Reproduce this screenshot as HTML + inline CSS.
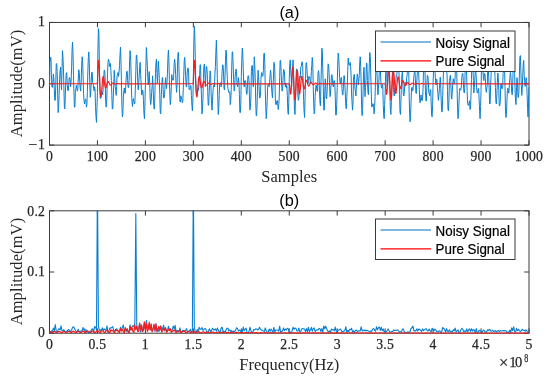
<!DOCTYPE html>
<html><head><meta charset="utf-8"><style>
html,body{margin:0;padding:0;background:#fff;width:550px;height:379px;overflow:hidden}
svg{display:block}
.tk{font-family:"Liberation Serif",serif;font-size:13.7px;fill:#262626;stroke:#262626;stroke-width:0.25px;letter-spacing:0.25px}
.al{font-family:"Liberation Serif",serif;font-size:16.5px;fill:#262626}
.lg{font-family:"Liberation Sans",sans-serif;font-size:14.2px;fill:#000;stroke:#000;stroke-width:0.2px}
.tt{font-family:"Liberation Sans",sans-serif;font-size:16.3px;fill:#000}
</style></head><body>
<svg width="550" height="379" viewBox="0 0 550 379">
<defs>
<clipPath id="ct"><rect x="49.0" y="21.95" width="480.5" height="123.64999999999999"/></clipPath>
<clipPath id="cb"><rect x="49.0" y="210.3" width="480.5" height="123.39999999999998"/></clipPath>
</defs>
<g stroke="#3a3a3a" stroke-width="1" fill="none">
<rect x="49.5" y="22.45" width="479.5" height="122.64999999999999"/>
<rect x="49.5" y="210.8" width="479.5" height="122.39999999999998"/>
<line x1="49.50" y1="145.1" x2="49.50" y2="140.29999999999998" />
<line x1="49.50" y1="22.45" x2="49.50" y2="27.25" />
<line x1="97.45" y1="145.1" x2="97.45" y2="140.29999999999998" />
<line x1="97.45" y1="22.45" x2="97.45" y2="27.25" />
<line x1="145.40" y1="145.1" x2="145.40" y2="140.29999999999998" />
<line x1="145.40" y1="22.45" x2="145.40" y2="27.25" />
<line x1="193.35" y1="145.1" x2="193.35" y2="140.29999999999998" />
<line x1="193.35" y1="22.45" x2="193.35" y2="27.25" />
<line x1="241.30" y1="145.1" x2="241.30" y2="140.29999999999998" />
<line x1="241.30" y1="22.45" x2="241.30" y2="27.25" />
<line x1="289.25" y1="145.1" x2="289.25" y2="140.29999999999998" />
<line x1="289.25" y1="22.45" x2="289.25" y2="27.25" />
<line x1="337.20" y1="145.1" x2="337.20" y2="140.29999999999998" />
<line x1="337.20" y1="22.45" x2="337.20" y2="27.25" />
<line x1="385.15" y1="145.1" x2="385.15" y2="140.29999999999998" />
<line x1="385.15" y1="22.45" x2="385.15" y2="27.25" />
<line x1="433.10" y1="145.1" x2="433.10" y2="140.29999999999998" />
<line x1="433.10" y1="22.45" x2="433.10" y2="27.25" />
<line x1="481.05" y1="145.1" x2="481.05" y2="140.29999999999998" />
<line x1="481.05" y1="22.45" x2="481.05" y2="27.25" />
<line x1="529.00" y1="145.1" x2="529.00" y2="140.29999999999998" />
<line x1="529.00" y1="22.45" x2="529.00" y2="27.25" />
<line x1="49.5" y1="22.45" x2="54.3" y2="22.45" />
<line x1="529.0" y1="22.45" x2="524.2" y2="22.45" />
<line x1="49.5" y1="83.77" x2="54.3" y2="83.77" />
<line x1="529.0" y1="83.77" x2="524.2" y2="83.77" />
<line x1="49.5" y1="145.10" x2="54.3" y2="145.10" />
<line x1="529.0" y1="145.10" x2="524.2" y2="145.10" />
<line x1="49.50" y1="333.2" x2="49.50" y2="328.4" />
<line x1="49.50" y1="210.8" x2="49.50" y2="215.60000000000002" />
<line x1="97.45" y1="333.2" x2="97.45" y2="328.4" />
<line x1="97.45" y1="210.8" x2="97.45" y2="215.60000000000002" />
<line x1="145.40" y1="333.2" x2="145.40" y2="328.4" />
<line x1="145.40" y1="210.8" x2="145.40" y2="215.60000000000002" />
<line x1="193.35" y1="333.2" x2="193.35" y2="328.4" />
<line x1="193.35" y1="210.8" x2="193.35" y2="215.60000000000002" />
<line x1="241.30" y1="333.2" x2="241.30" y2="328.4" />
<line x1="241.30" y1="210.8" x2="241.30" y2="215.60000000000002" />
<line x1="289.25" y1="333.2" x2="289.25" y2="328.4" />
<line x1="289.25" y1="210.8" x2="289.25" y2="215.60000000000002" />
<line x1="337.20" y1="333.2" x2="337.20" y2="328.4" />
<line x1="337.20" y1="210.8" x2="337.20" y2="215.60000000000002" />
<line x1="385.15" y1="333.2" x2="385.15" y2="328.4" />
<line x1="385.15" y1="210.8" x2="385.15" y2="215.60000000000002" />
<line x1="433.10" y1="333.2" x2="433.10" y2="328.4" />
<line x1="433.10" y1="210.8" x2="433.10" y2="215.60000000000002" />
<line x1="481.05" y1="333.2" x2="481.05" y2="328.4" />
<line x1="481.05" y1="210.8" x2="481.05" y2="215.60000000000002" />
<line x1="529.00" y1="333.2" x2="529.00" y2="328.4" />
<line x1="529.00" y1="210.8" x2="529.00" y2="215.60000000000002" />
<line x1="49.5" y1="210.80" x2="54.3" y2="210.80" />
<line x1="529.0" y1="210.80" x2="524.2" y2="210.80" />
<line x1="49.5" y1="272.00" x2="54.3" y2="272.00" />
<line x1="529.0" y1="272.00" x2="524.2" y2="272.00" />
<line x1="49.5" y1="333.20" x2="54.3" y2="333.20" />
<line x1="529.0" y1="333.20" x2="524.2" y2="333.20" />
</g>
<g clip-path="url(#ct)" fill="none" stroke-linejoin="round">
<polyline points="49.50,86.39 49.98,62.92 50.46,57.41 50.94,57.41 51.42,74.34 51.90,86.91 52.38,87.45 52.86,83.04 53.34,73.96 53.82,77.87 54.30,89.76 54.77,100.33 55.25,100.33 55.73,86.96 56.21,64.48 56.69,63.54 57.17,71.33 57.65,94.04 58.13,112.60 58.61,107.54 59.09,95.59 59.57,79.33 60.05,70.91 60.53,67.22 61.01,79.76 61.49,89.91 61.97,70.73 62.45,50.66 62.93,56.81 63.41,67.22 63.88,87.11 64.36,107.22 64.84,108.92 65.32,95.20 65.80,80.83 66.28,72.74 66.76,72.74 67.24,84.33 67.72,90.23 68.20,90.83 68.68,85.74 69.16,77.64 69.64,77.64 70.12,79.24 70.60,86.84 71.08,81.20 71.56,70.01 72.04,50.49 72.52,42.07 73.00,53.57 73.47,75.31 73.95,92.43 74.43,107.08 74.91,107.08 75.39,90.17 75.87,89.25 76.35,85.34 76.83,88.36 77.31,91.13 77.79,89.46 78.27,78.99 78.75,69.67 79.23,72.37 79.71,81.49 80.19,87.89 80.67,91.13 81.15,82.39 81.63,67.05 82.11,56.79 82.59,59.93 83.06,74.21 83.54,93.43 84.02,100.42 84.50,104.01 84.98,101.03 85.46,98.88 85.94,100.72 86.42,107.08 86.90,104.44 87.38,91.55 87.86,70.53 88.34,57.69 88.82,51.89 89.30,63.32 89.78,82.76 90.26,97.27 90.74,92.90 91.22,81.11 91.70,72.45 92.18,72.12 92.66,82.46 93.13,83.13 93.61,88.68 94.09,90.72 94.57,86.79 95.05,90.00 95.53,106.73 96.01,116.83 96.49,122.41 96.97,107.29 97.45,92.28 97.93,49.09 98.41,28.58 98.89,33.03 99.37,62.90 99.85,91.20 100.33,98.49 100.81,98.49 101.29,91.87 101.77,91.87 102.25,92.70 102.72,94.82 103.20,87.40 103.68,79.42 104.16,70.28 104.64,70.29 105.12,78.14 105.60,100.10 106.08,107.08 106.56,104.76 107.04,89.65 107.52,73.38 108.00,62.23 108.48,59.24 108.96,60.82 109.44,66.44 109.92,65.09 110.40,63.48 110.88,70.67 111.36,80.52 111.84,95.48 112.31,108.92 112.79,108.92 113.27,96.83 113.75,84.06 114.23,70.28 114.71,78.47 115.19,86.53 115.67,90.22 116.15,95.43 116.63,86.63 117.11,75.47 117.59,73.76 118.07,72.45 118.55,76.47 119.03,72.43 119.51,65.64 119.99,55.49 120.47,46.98 120.95,60.69 121.42,80.44 121.90,105.25 122.38,116.89 122.86,113.19 123.34,97.61 123.82,92.04 124.30,87.98 124.78,93.19 125.26,93.19 125.74,86.19 126.22,77.48 126.70,71.51 127.18,71.21 127.66,80.76 128.14,87.45 128.62,87.67 129.10,80.84 129.58,61.26 130.06,50.66 130.54,54.45 131.01,69.92 131.49,91.14 131.97,101.77 132.45,106.47 132.93,100.58 133.41,98.62 133.89,101.33 134.37,104.11 134.85,103.27 135.33,89.34 135.81,71.68 136.29,55.62 136.77,54.95 137.25,65.76 137.73,81.04 138.21,89.82 138.69,84.06 139.17,76.11 139.65,67.59 140.13,62.31 140.61,74.46 141.08,82.27 141.56,94.81 142.04,94.81 142.52,89.99 143.00,91.43 143.48,100.68 143.96,113.56 144.44,118.73 144.92,105.11 145.40,84.69 145.88,66.26 146.36,47.59 146.84,55.79 147.32,65.45 147.80,77.49 148.28,85.00 148.76,77.12 149.24,71.51 149.72,83.92 150.19,99.08 150.67,104.63 151.15,101.63 151.63,92.54 152.11,86.53 152.59,75.80 153.07,85.90 153.55,101.47 154.03,108.92 154.51,108.92 154.99,90.38 155.47,73.64 155.95,63.08 156.43,59.24 156.91,72.39 157.39,83.77 157.87,73.62 158.35,61.08 158.83,68.79 159.31,78.54 159.78,94.43 160.26,112.55 160.74,113.82 161.22,98.22 161.70,88.01 162.18,77.64 162.66,77.64 163.14,89.36 163.62,97.88 164.10,97.88 164.58,94.76 165.06,85.53 165.54,77.64 166.02,83.66 166.50,88.68 166.98,82.43 167.46,73.26 167.94,57.19 168.42,50.05 168.90,60.24 169.38,79.64 169.85,95.41 170.33,104.63 170.81,98.76 171.29,86.84 171.77,74.57 172.25,77.64 172.73,80.21 173.21,80.21 173.69,75.47 174.17,63.82 174.65,59.24 175.13,64.15 175.61,74.44 176.09,84.65 176.57,92.36 177.05,84.38 177.53,65.23 178.01,52.50 178.49,52.53 178.97,68.26 179.44,88.73 179.92,101.57 180.40,102.17 180.88,95.81 181.36,97.93 181.84,99.40 182.32,102.79 182.80,101.30 183.28,89.14 183.76,75.44 184.24,60.56 184.72,57.41 185.20,65.92 185.68,76.61 186.16,86.84 186.64,86.84 187.12,74.17 187.60,68.39 188.08,67.83 188.56,72.13 189.03,89.07 189.51,89.91 189.99,89.08 190.47,85.67 190.95,85.65 191.43,95.52 191.91,105.39 192.39,110.76 192.87,101.09 193.35,76.35 193.83,41.31 194.31,26.13 194.79,34.12 195.27,57.72 195.75,80.84 196.23,91.89 196.71,96.04 197.19,90.77 197.67,88.54 198.15,90.76 198.62,89.41 199.10,82.83 199.58,77.39 200.06,64.76 200.54,64.76 201.02,84.91 201.50,98.11 201.98,113.82 202.46,109.84 202.94,98.42 203.42,78.48 203.90,66.11 204.38,64.15 204.86,73.40 205.34,86.84 205.82,75.36 206.30,66.60 206.78,66.60 207.26,73.92 207.74,91.68 208.21,105.24 208.69,105.24 209.17,92.97 209.65,79.44 210.13,70.90 210.61,74.85 211.09,92.33 211.57,103.56 212.05,110.14 212.53,100.39 213.01,91.10 213.49,85.43 213.97,84.48 214.45,86.84 214.93,73.58 215.41,66.43 215.89,51.81 216.37,40.23 216.85,55.79 217.32,78.47 217.80,100.07 218.28,114.44 218.76,107.91 219.24,94.70 219.72,82.93 220.20,82.93 220.68,82.80 221.16,86.84 221.64,83.45 222.12,71.53 222.60,64.76 223.08,65.24 223.56,73.81 224.04,88.47 224.52,89.91 225.00,75.64 225.48,61.23 225.96,50.05 226.44,53.11 226.91,69.94 227.39,79.62 227.87,88.68 228.35,89.91 228.83,92.47 229.31,91.82 229.79,91.97 230.27,104.63 230.75,100.00 231.23,89.80 231.71,68.04 232.19,51.89 232.67,51.89 233.15,64.91 233.63,79.77 234.11,91.13 234.59,90.38 235.07,77.75 235.55,71.43 236.03,69.06 236.50,71.18 236.98,83.92 237.46,86.84 237.94,83.68 238.42,77.64 238.90,81.57 239.38,94.29 239.86,112.38 240.34,112.60 240.82,102.91 241.30,76.32 241.78,60.54 242.26,48.21 242.74,53.05 243.22,68.47 243.70,82.83 244.18,86.84 244.66,80.71 245.14,80.71 245.62,80.71 246.09,88.00 246.57,94.20 247.05,93.90 247.53,83.39 248.01,75.80 248.49,75.80 248.97,79.78 249.45,96.91 249.93,110.14 250.41,106.13 250.89,98.13 251.37,71.58 251.85,66.00 252.33,65.38 252.81,76.53 253.29,86.84 253.77,78.37 254.25,56.79 254.73,64.35 255.21,77.56 255.69,100.04 256.16,115.66 256.64,115.66 257.12,102.98 257.60,83.12 258.08,70.28 258.56,76.36 259.04,86.67 259.52,97.88 260.00,97.88 260.48,95.38 260.96,79.58 261.44,72.74 261.92,72.74 262.40,76.17 262.88,76.16 263.36,70.74 263.84,54.12 264.32,53.11 264.80,63.48 265.27,89.23 265.75,106.54 266.23,118.73 266.71,111.14 267.19,100.37 267.67,86.67 268.15,84.33 268.63,85.75 269.11,86.84 269.59,82.96 270.07,75.77 270.55,70.28 271.03,74.84 271.51,86.12 271.99,93.61 272.47,97.88 272.95,87.02 273.43,78.07 273.91,62.31 274.39,63.48 274.87,71.79 275.34,99.93 275.82,104.63 276.30,104.63 276.78,101.29 277.26,100.41 277.74,103.83 278.22,109.53 278.70,105.88 279.18,98.11 279.66,77.66 280.14,60.47 280.62,60.47 281.10,71.24 281.58,83.17 282.06,91.13 282.54,90.26 283.02,80.19 283.50,69.67 283.98,69.67 284.46,71.50 284.93,84.04 285.41,86.84 285.89,82.90 286.37,88.10 286.85,85.61 287.33,95.59 287.81,109.80 288.29,114.44 288.77,102.45 289.25,79.69 289.73,65.22 290.21,59.86 290.69,70.36 291.17,77.41 291.65,86.84 292.13,76.00 292.61,66.81 293.09,59.86 293.57,74.31 294.04,95.70 294.52,111.19 295.00,114.44 295.48,100.77 295.96,79.41 296.44,69.06 296.92,69.06 297.40,81.59 297.88,95.19 298.36,100.33 298.84,98.85 299.32,82.34 299.80,76.11 300.28,77.84 300.76,67.09 301.24,66.54 301.72,62.57 302.20,61.70 302.68,65.51 303.16,83.16 303.63,100.45 304.11,111.83 304.59,117.50 305.07,97.47 305.55,78.89 306.03,62.92 306.51,62.71 306.99,69.54 307.47,78.21 307.95,83.77 308.43,80.33 308.91,76.27 309.39,78.17 309.87,77.60 310.35,83.77 310.83,82.15 311.31,71.76 311.79,65.19 312.27,57.41 312.75,62.84 313.23,86.31 313.70,103.78 314.18,113.82 314.66,111.33 315.14,96.44 315.62,89.18 316.10,84.94 316.58,88.06 317.06,91.29 317.54,91.24 318.02,73.59 318.50,70.59 318.98,73.53 319.46,91.02 319.94,102.30 320.42,105.85 320.90,85.99 321.38,67.59 321.86,48.21 322.34,51.57 322.81,70.99 323.29,87.08 323.77,110.14 324.25,110.14 324.73,94.68 325.21,78.87 325.69,84.49 326.17,97.88 326.65,98.94 327.13,91.47 327.61,78.10 328.09,63.85 328.57,64.76 329.05,72.49 329.53,83.30 330.01,96.65 330.49,93.06 330.97,85.88 331.45,75.27 331.93,74.58 332.40,78.67 332.88,85.03 333.36,86.84 333.84,80.71 334.32,80.71 334.80,83.73 335.28,96.80 335.76,115.05 336.24,115.05 336.72,104.11 337.20,87.76 337.68,65.19 338.16,53.11 338.64,56.83 339.12,65.81 339.60,77.40 340.08,83.77 340.56,83.77 341.04,77.64 341.52,77.64 342.00,88.69 342.47,94.81 342.95,94.81 343.43,86.21 343.91,75.80 344.39,75.80 344.87,83.83 345.35,95.01 345.83,105.85 346.31,108.89 346.79,97.55 347.27,86.84 347.75,70.19 348.23,58.02 348.71,64.70 349.19,65.01 349.67,65.32 350.15,62.31 350.63,66.31 351.11,75.39 351.58,93.96 352.06,102.86 352.54,110.14 353.02,103.09 353.50,78.13 353.98,74.58 354.46,74.58 354.94,88.32 355.42,91.37 355.90,96.04 356.38,86.96 356.86,78.60 357.34,73.96 357.82,77.34 358.30,85.00 358.78,81.34 359.26,75.62 359.74,62.77 360.22,56.79 360.70,66.45 361.18,82.84 361.65,108.52 362.13,115.66 362.61,109.67 363.09,90.75 363.57,73.00 364.05,67.22 364.53,83.38 365.01,96.65 365.49,87.74 365.97,79.88 366.45,62.92 366.93,63.74 367.41,80.47 367.89,90.98 368.37,94.81 368.85,80.46 369.33,63.70 369.81,52.50 370.29,56.41 370.76,73.86 371.24,92.00 371.72,107.10 372.20,106.50 372.68,103.79 373.16,103.79 373.64,106.87 374.12,113.82 374.60,107.36 375.08,96.64 375.56,77.13 376.04,67.48 376.52,63.62 377.00,73.09 377.48,87.22 377.96,94.81 378.44,88.60 378.92,81.04 379.40,67.62 379.88,67.62 380.36,69.99 380.83,81.35 381.31,86.84 381.79,88.18 382.27,84.33 382.75,84.33 383.23,104.49 383.71,115.00 384.19,118.73 384.67,104.78 385.15,92.31 385.63,73.32 386.11,68.06 386.59,68.06 387.07,86.62 387.55,86.84 388.03,76.78 388.51,70.41 388.99,65.96 389.47,74.98 389.94,96.20 390.42,110.43 390.90,114.44 391.38,101.27 391.86,83.91 392.34,72.06 392.82,70.23 393.30,78.76 393.78,92.70 394.26,96.04 394.74,87.91 395.22,89.91 395.70,83.10 396.18,75.77 396.66,76.35 397.14,70.93 397.62,61.93 398.10,59.37 398.58,61.90 399.06,73.95 399.54,94.68 400.01,112.36 400.49,114.44 400.97,100.17 401.45,84.34 401.93,74.66 402.41,71.75 402.89,83.53 403.37,94.28 403.85,96.04 404.33,92.93 404.81,83.52 405.29,82.18 405.77,84.97 406.25,83.94 406.73,77.69 407.21,74.22 407.69,57.44 408.17,57.44 408.65,64.04 409.12,92.73 409.60,112.95 410.08,121.80 410.56,116.24 411.04,102.58 411.52,88.92 412.00,87.30 412.48,90.74 412.96,90.52 413.44,84.22 413.92,75.93 414.40,71.51 414.88,69.76 415.36,78.51 415.84,92.26 416.32,93.59 416.80,80.82 417.28,73.92 417.76,56.36 418.24,59.50 418.71,73.75 419.19,87.07 419.67,100.10 420.15,102.79 420.63,98.32 421.11,94.84 421.59,100.32 422.07,100.33 422.55,100.33 423.03,88.82 423.51,69.53 423.99,60.23 424.47,60.23 424.95,68.81 425.43,90.79 425.91,100.95 426.39,100.95 426.87,85.54 427.35,75.29 427.83,75.84 428.31,81.89 428.78,92.00 429.26,93.99 429.74,95.67 430.22,89.60 430.70,89.60 431.18,103.00 431.66,115.56 432.14,116.89 432.62,105.28 433.10,82.45 433.58,68.81 434.06,60.56 434.54,60.03 435.02,71.47 435.50,80.29 435.98,84.85 436.46,79.27 436.94,79.27 437.42,87.92 437.89,93.67 438.37,100.33 438.85,96.26 439.33,89.73 439.81,82.66 440.29,77.16 440.77,88.64 441.25,102.08 441.73,111.98 442.21,111.72 442.69,95.74 443.17,81.66 443.65,65.34 444.13,66.85 444.61,71.84 445.09,66.48 445.57,68.06 446.05,64.99 446.53,71.79 447.01,73.72 447.49,90.39 447.96,109.34 448.44,110.76 448.92,101.07 449.40,80.59 449.88,78.18 450.36,75.26 450.84,81.57 451.32,96.86 451.80,99.11 452.28,91.90 452.76,83.60 453.24,78.75 453.72,81.14 454.20,84.35 454.68,83.67 455.16,76.09 455.64,61.95 456.12,57.51 456.60,64.36 457.07,88.13 457.55,107.69 458.03,118.73 458.51,114.50 458.99,102.03 459.47,91.42 459.95,88.41 460.43,90.17 460.91,89.40 461.39,85.68 461.87,76.42 462.35,73.48 462.83,73.43 463.31,80.64 463.79,90.80 464.27,92.97 464.75,88.16 465.23,67.16 465.71,57.00 466.19,59.81 466.67,75.39 467.14,90.56 467.62,103.46 468.10,105.24 468.58,105.24 469.06,102.99 469.54,100.72 470.02,109.53 470.50,108.90 470.98,95.26 471.46,79.44 471.94,58.61 472.42,58.61 472.90,66.27 473.38,80.51 473.86,92.97 474.34,87.42 474.82,78.98 475.30,70.32 475.78,70.32 476.25,78.02 476.73,89.27 477.21,92.95 477.69,92.95 478.17,88.41 478.65,88.41 479.13,99.51 479.61,111.19 480.09,118.73 480.57,106.59 481.05,90.50 481.53,65.89 482.01,60.12 482.49,60.27 482.97,70.34 483.45,79.69 483.93,80.66 484.41,73.56 484.89,73.56 485.37,78.41 485.85,89.01 486.32,92.36 486.80,87.85 487.28,85.47 487.76,67.31 488.24,67.40 488.72,77.83 489.20,89.87 489.68,104.01 490.16,103.04 490.64,84.76 491.12,74.93 491.60,57.81 492.08,59.86 492.56,63.95 493.04,59.88 493.52,57.81 494.00,57.81 494.48,61.43 494.96,76.54 495.44,87.48 495.91,102.06 496.39,104.01 496.87,94.92 497.35,82.44 497.83,73.09 498.31,77.28 498.79,90.46 499.27,105.85 499.75,105.85 500.23,102.00 500.71,86.20 501.19,83.66 501.67,88.49 502.15,88.49 502.63,88.49 503.11,73.63 503.59,61.66 504.07,58.74 504.55,70.01 505.02,86.54 505.50,111.64 505.98,117.50 506.46,113.62 506.94,100.16 507.42,90.52 507.90,88.12 508.38,92.01 508.86,93.14 509.34,84.38 509.82,78.67 510.30,72.46 510.78,74.79 511.26,82.08 511.74,92.76 512.22,94.81 512.70,85.31 513.18,66.99 513.66,58.44 514.14,57.92 514.62,73.65 515.09,89.32 515.57,101.67 516.05,104.63 516.53,87.32 517.01,77.64 517.49,83.95 517.97,97.27 518.45,97.27 518.93,91.30 519.41,74.09 519.89,57.24 520.37,55.57 520.85,70.23 521.33,85.45 521.81,95.43 522.29,88.48 522.77,75.17 523.25,63.66 523.73,60.47 524.20,75.80 524.68,81.71 525.16,86.45 525.64,83.14 526.12,77.64 526.60,80.33 527.08,94.04 527.56,107.64 528.04,116.89 528.52,103.26 529.00,87.19" stroke="#0a7fd2" stroke-width="1.0"/>
<polyline points="49.50,83.77 97.45,83.77 97.57,79.12 97.69,74.83 97.81,71.02 97.93,67.73 98.05,65.03 98.17,62.94 98.29,61.48 98.41,60.66 98.53,60.46 98.65,60.85 98.77,61.78 98.89,63.20 99.01,65.05 99.13,67.26 99.25,69.76 99.37,72.46 99.49,75.28 99.61,78.16 99.73,81.01 99.85,83.77 99.97,86.38 100.09,88.77 100.21,90.91 100.33,92.75 100.45,94.26 100.57,95.42 100.69,96.24 100.81,96.70 100.93,96.81 101.05,96.59 101.17,96.07 101.29,95.28 101.41,94.24 101.53,93.01 101.65,91.61 101.77,90.10 101.89,88.52 102.01,86.91 102.13,85.32 102.25,83.77 102.36,82.32 102.48,80.98 102.60,79.79 102.72,78.76 102.84,77.91 102.96,77.26 103.08,76.81 103.20,76.55 103.32,76.49 103.44,76.61 103.56,76.90 103.68,77.34 103.80,77.92 103.92,78.61 104.04,79.39 104.16,80.24 104.28,81.12 104.40,82.02 104.52,82.91 104.64,83.77 104.76,84.59 104.88,85.34 105.00,86.00 105.12,86.58 105.24,87.05 105.36,87.42 105.48,87.67 105.60,87.81 105.72,87.85 105.84,87.78 105.96,87.62 106.08,87.37 106.20,87.05 106.32,86.66 106.44,86.23 106.56,85.75 106.68,85.26 106.80,84.76 106.92,84.26 107.04,83.77 107.16,83.32 107.28,82.90 107.40,82.53 107.52,82.21 107.64,81.94 107.76,81.74 107.88,81.60 108.00,81.52 108.12,81.50 108.24,81.53 108.36,81.63 108.48,81.76 108.60,81.95 108.72,82.16 108.84,82.40 108.96,82.67 109.08,82.95 109.20,83.23 109.32,83.51 109.44,83.77 109.56,84.03 109.68,84.26 109.80,84.47 109.92,84.65 110.04,84.80 110.16,84.91 110.28,84.99 110.40,85.04 110.52,85.05 110.64,85.03 110.76,84.98 110.88,84.90 111.00,84.80 111.12,84.68 111.24,84.54 111.36,84.39 111.48,84.24 111.60,84.08 111.72,83.93 111.84,83.77 111.95,83.63 112.07,83.50 112.19,83.39 112.31,83.28 112.43,83.20 112.55,83.14 112.67,83.09 112.79,83.07 112.91,83.06 113.03,83.07 113.15,83.10 113.27,83.15 113.39,83.20 113.51,83.27 113.63,83.35 113.75,83.43 113.87,83.52 113.99,83.60 114.11,83.69 114.23,83.77 114.35,83.85 114.47,83.93 114.59,83.99 114.71,84.05 114.83,84.10 114.95,84.13 115.07,84.16 115.19,84.17 115.31,84.17 115.43,84.17 115.55,84.15 115.67,84.13 115.79,84.09 115.91,84.06 116.03,84.01 116.15,83.97 116.27,83.92 116.39,83.87 116.51,83.82 116.63,83.77 116.75,83.73 116.87,83.69 116.99,83.65 117.11,83.62 117.23,83.60 117.35,83.58 117.47,83.56 117.59,83.55 117.71,83.55 117.83,83.56 117.95,83.56 118.07,83.58 118.19,83.60 118.31,83.62 118.43,83.64 118.55,83.67 118.67,83.69 118.79,83.72 118.91,83.75 119.03,83.77 119.15,83.80 119.27,83.82 119.39,83.84 119.51,83.86 119.63,83.88 119.75,83.89 119.87,83.89 119.99,83.90 120.11,83.90 120.23,83.90 120.35,83.89 120.47,83.88 120.59,83.87 120.71,83.86 120.83,83.85 120.95,83.84 121.07,83.82 121.19,83.80 121.31,83.79 121.42,83.77 121.54,83.76 121.66,83.75 121.78,83.74 121.90,83.73 122.02,83.72 122.14,83.71 122.26,83.71 122.38,83.71 122.50,83.71 122.62,83.71 122.74,83.71 122.86,83.71 122.98,83.72 123.10,83.73 123.22,83.73 123.34,83.74 123.46,83.75 123.58,83.76 123.70,83.77 123.94,83.78 124.06,83.79 124.18,83.80 124.30,83.80 124.42,83.81 124.54,83.81 124.66,83.81 124.78,83.81 124.90,83.81 125.02,83.81 125.14,83.81 125.26,83.81 125.38,83.81 125.50,83.80 125.62,83.80 125.74,83.79 125.86,83.79 125.98,83.78 126.46,83.77 126.58,83.76 126.70,83.76 126.82,83.76 126.94,83.76 127.06,83.75 127.18,83.75 127.30,83.75 127.42,83.75 127.54,83.75 127.66,83.76 127.78,83.76 127.90,83.76 128.02,83.76 128.14,83.76 128.26,83.77 129.22,83.78 129.34,83.79 129.46,83.79 129.58,83.79 129.70,83.79 129.82,83.79 129.94,83.79 130.06,83.79 130.18,83.78 193.35,83.77 193.47,79.12 193.59,74.83 193.71,71.02 193.83,67.73 193.95,65.03 194.07,62.94 194.19,61.48 194.31,60.66 194.43,60.46 194.55,60.85 194.67,61.78 194.79,63.20 194.91,65.05 195.03,67.26 195.15,69.76 195.27,72.46 195.39,75.28 195.51,78.16 195.63,81.01 195.75,83.77 195.87,86.38 195.99,88.77 196.11,90.91 196.23,92.75 196.35,94.26 196.47,95.42 196.59,96.24 196.71,96.70 196.83,96.81 196.95,96.59 197.07,96.07 197.19,95.28 197.31,94.24 197.43,93.01 197.55,91.61 197.67,90.10 197.79,88.52 197.91,86.91 198.03,85.32 198.15,83.77 198.26,82.32 198.38,80.98 198.50,79.79 198.62,78.76 198.74,77.91 198.86,77.26 198.98,76.81 199.10,76.55 199.22,76.49 199.34,76.61 199.46,76.90 199.58,77.34 199.70,77.92 199.82,78.61 199.94,79.39 200.06,80.24 200.18,81.12 200.30,82.02 200.42,82.91 200.54,83.77 200.66,84.59 200.78,85.34 200.90,86.00 201.02,86.58 201.14,87.05 201.26,87.42 201.38,87.67 201.50,87.81 201.62,87.85 201.74,87.78 201.86,87.62 201.98,87.37 202.10,87.05 202.22,86.66 202.34,86.23 202.46,85.75 202.58,85.26 202.70,84.76 202.82,84.26 202.94,83.77 203.06,83.32 203.18,82.90 203.30,82.53 203.42,82.21 203.54,81.94 203.66,81.74 203.78,81.60 203.90,81.52 204.02,81.50 204.14,81.53 204.26,81.63 204.38,81.76 204.50,81.95 204.62,82.16 204.74,82.40 204.86,82.67 204.98,82.95 205.10,83.23 205.22,83.51 205.34,83.77 205.46,84.03 205.58,84.26 205.70,84.47 205.82,84.65 205.94,84.80 206.06,84.91 206.18,84.99 206.30,85.04 206.42,85.05 206.54,85.03 206.66,84.98 206.78,84.90 206.90,84.80 207.02,84.68 207.14,84.54 207.26,84.39 207.38,84.24 207.50,84.08 207.62,83.93 207.74,83.77 207.85,83.63 207.97,83.50 208.09,83.39 208.21,83.28 208.33,83.20 208.45,83.14 208.57,83.09 208.69,83.07 208.81,83.06 208.93,83.07 209.05,83.10 209.17,83.15 209.29,83.20 209.41,83.27 209.53,83.35 209.65,83.43 209.77,83.52 209.89,83.60 210.01,83.69 210.13,83.77 210.25,83.85 210.37,83.93 210.49,83.99 210.61,84.05 210.73,84.10 210.85,84.13 210.97,84.16 211.09,84.17 211.21,84.17 211.33,84.17 211.45,84.15 211.57,84.13 211.69,84.09 211.81,84.06 211.93,84.01 212.05,83.97 212.17,83.92 212.29,83.87 212.41,83.82 212.53,83.77 212.65,83.73 212.77,83.69 212.89,83.65 213.01,83.62 213.13,83.60 213.25,83.58 213.37,83.56 213.49,83.55 213.61,83.55 213.73,83.56 213.85,83.56 213.97,83.58 214.09,83.60 214.21,83.62 214.33,83.64 214.45,83.67 214.57,83.69 214.69,83.72 214.81,83.75 214.93,83.77 215.05,83.80 215.17,83.82 215.29,83.84 215.41,83.86 215.53,83.88 215.65,83.89 215.77,83.89 215.89,83.90 216.01,83.90 216.13,83.90 216.25,83.89 216.37,83.88 216.49,83.87 216.61,83.86 216.73,83.85 216.85,83.84 216.97,83.82 217.09,83.80 217.21,83.79 217.32,83.77 217.44,83.76 217.56,83.75 217.68,83.74 217.80,83.73 217.92,83.72 218.04,83.71 218.16,83.71 218.28,83.71 218.40,83.71 218.52,83.71 218.64,83.71 218.76,83.71 218.88,83.72 219.00,83.73 219.12,83.73 219.24,83.74 219.36,83.75 219.48,83.76 219.60,83.77 219.84,83.78 219.96,83.79 220.08,83.80 220.20,83.80 220.32,83.81 220.44,83.81 220.56,83.81 220.68,83.81 220.80,83.81 220.92,83.81 221.04,83.81 221.16,83.81 221.28,83.81 221.40,83.80 221.52,83.80 221.64,83.79 221.76,83.79 221.88,83.78 222.36,83.77 222.48,83.76 222.60,83.76 222.72,83.76 222.84,83.76 222.96,83.75 223.08,83.75 223.20,83.75 223.32,83.75 223.44,83.75 223.56,83.76 223.68,83.76 223.80,83.76 223.92,83.76 224.04,83.76 224.16,83.77 225.12,83.78 225.24,83.79 225.36,83.79 225.48,83.79 225.60,83.79 225.72,83.79 225.84,83.79 225.96,83.79 226.08,83.78 289.25,83.77 289.37,83.98 289.49,84.56 289.61,85.46 289.73,86.60 289.85,87.89 289.97,89.25 290.09,90.58 290.21,91.80 290.33,92.82 290.45,93.57 290.57,94.01 290.69,94.07 290.81,93.75 290.93,93.03 291.05,91.91 291.17,90.43 291.29,88.62 291.41,86.54 291.53,84.25 291.65,81.83 291.77,79.36 291.89,76.93 292.01,74.61 292.13,72.48 292.25,70.62 292.37,69.09 292.49,67.95 292.61,67.24 292.73,66.98 292.85,67.20 292.97,67.87 293.09,69.00 293.21,70.55 293.33,72.47 293.45,74.71 293.57,77.20 293.69,79.88 293.81,82.65 293.93,85.45 294.04,88.19 294.16,90.80 294.28,93.20 294.40,95.32 294.52,97.11 294.64,98.52 294.76,99.51 294.88,100.07 295.00,100.18 295.12,99.85 295.24,99.08 295.36,97.92 295.48,96.39 295.60,94.55 295.72,92.45 295.84,90.16 295.96,87.74 296.08,85.26 296.20,82.79 296.32,80.40 296.44,78.15 296.56,76.10 296.68,74.31 296.80,72.80 296.92,71.63 297.04,70.81 297.16,70.36 297.28,70.27 297.40,70.56 297.52,71.18 297.64,72.13 297.76,73.36 297.88,74.84 298.00,76.52 298.12,78.34 298.24,80.26 298.36,82.22 298.48,84.16 298.60,86.04 298.72,87.80 298.84,89.40 298.96,90.80 299.08,91.97 299.20,92.89 299.32,93.53 299.44,93.90 299.56,93.98 299.68,93.79 299.80,93.34 299.92,92.65 300.04,91.74 300.16,90.65 300.28,89.41 300.40,88.07 300.52,86.65 300.64,85.21 300.76,83.77 300.88,82.39 301.00,81.09 301.12,79.91 301.24,78.87 301.36,78.00 301.48,77.31 301.60,76.82 301.72,76.53 301.84,76.44 301.96,76.56 302.08,76.86 302.20,77.33 302.32,77.96 302.44,78.72 302.56,79.59 302.68,80.54 302.80,81.54 302.92,82.56 303.04,83.58 303.16,84.56 303.28,85.48 303.40,86.33 303.52,87.07 303.63,87.70 303.75,88.20 303.87,88.56 303.99,88.78 304.11,88.86 304.23,88.80 304.35,88.61 304.47,88.30 304.59,87.88 304.71,87.37 304.83,86.78 304.95,86.13 305.07,85.45 305.19,84.75 305.31,84.05 305.43,83.37 305.55,82.73 305.67,82.14 305.79,81.62 305.91,81.18 306.03,80.83 306.15,80.57 306.27,80.40 306.39,80.33 306.51,80.36 306.63,80.47 306.75,80.67 306.87,80.94 306.99,81.28 307.11,81.67 307.23,82.10 307.35,82.56 307.47,83.03 307.59,83.50 307.71,83.96 307.83,84.39 307.95,84.79 308.07,85.15 308.19,85.45 308.31,85.70 308.43,85.88 308.55,86.01 308.67,86.06 308.79,86.06 308.91,85.99 309.03,85.87 309.15,85.69 309.27,85.48 309.39,85.22 309.51,84.94 309.63,84.64 309.75,84.33 309.87,84.02 309.99,83.71 310.11,83.42 310.23,83.16 310.35,82.92 310.47,82.71 310.59,82.54 310.71,82.41 310.83,82.32 310.95,82.28 311.07,82.27 311.19,82.31 311.31,82.39 311.43,82.49 311.55,82.63 311.67,82.79 311.79,82.97 311.91,83.17 312.03,83.37 312.15,83.57 312.27,83.78 312.39,83.97 312.51,84.14 312.63,84.30 312.75,84.44 312.87,84.56 312.99,84.65 313.11,84.71 313.23,84.74 313.34,84.75 313.46,84.73 313.58,84.69 313.70,84.62 313.82,84.53 313.94,84.43 314.06,84.32 314.18,84.19 314.30,84.06 314.42,83.93 314.54,83.80 314.66,83.68 314.78,83.56 314.90,83.45 315.02,83.36 315.14,83.28 315.26,83.22 315.38,83.18 315.50,83.16 315.62,83.15 315.74,83.16 315.86,83.18 315.98,83.22 316.10,83.28 316.22,83.34 316.34,83.41 316.46,83.49 316.58,83.57 316.70,83.66 316.82,83.74 316.94,83.82 317.06,83.90 317.18,83.97 317.30,84.03 317.42,84.08 317.54,84.12 317.66,84.15 317.78,84.17 317.90,84.18 318.02,84.17 318.14,84.16 318.26,84.13 318.38,84.10 318.50,84.06 318.62,84.02 318.74,83.97 318.86,83.91 318.98,83.86 319.10,83.81 319.22,83.75 319.34,83.71 319.46,83.66 319.58,83.62 319.70,83.59 319.82,83.56 319.94,83.54 320.06,83.53 320.18,83.52 320.30,83.52 320.42,83.53 320.54,83.55 320.66,83.56 320.78,83.59 320.90,83.62 321.02,83.65 321.14,83.68 321.26,83.71 321.38,83.75 321.50,83.78 321.62,83.81 321.74,83.84 321.86,83.87 321.98,83.89 322.10,83.91 322.22,83.92 322.34,83.93 322.46,83.93 322.58,83.93 322.70,83.93 322.81,83.92 322.93,83.91 323.05,83.90 323.17,83.88 323.29,83.86 323.41,83.84 323.53,83.82 323.65,83.80 323.77,83.77 323.89,83.76 324.01,83.74 324.13,83.72 324.25,83.71 324.37,83.69 324.49,83.68 324.61,83.68 324.73,83.68 324.85,83.67 324.97,83.68 325.09,83.68 325.21,83.69 325.33,83.70 325.45,83.71 325.57,83.72 325.69,83.73 325.81,83.75 325.93,83.76 326.05,83.77 326.17,83.79 326.29,83.80 326.41,83.81 326.53,83.82 326.65,83.82 326.77,83.83 326.89,83.83 327.01,83.84 327.13,83.84 327.25,83.84 327.37,83.83 327.49,83.83 327.61,83.82 327.73,83.82 327.85,83.81 327.97,83.80 328.09,83.79 328.21,83.79 328.33,83.78 328.45,83.77 328.57,83.76 328.69,83.76 328.81,83.75 328.93,83.75 329.05,83.74 329.17,83.74 329.29,83.74 329.41,83.74 329.53,83.74 329.65,83.74 329.77,83.74 329.89,83.74 330.01,83.75 330.13,83.75 330.25,83.76 330.37,83.76 330.49,83.77 330.85,83.78 330.97,83.79 331.09,83.79 331.21,83.79 331.33,83.80 331.45,83.80 331.57,83.80 331.69,83.80 331.81,83.80 331.93,83.80 332.05,83.80 332.17,83.79 332.29,83.79 332.40,83.79 332.52,83.79 332.64,83.78 333.36,83.77 333.48,83.76 333.60,83.76 333.72,83.76 333.84,83.76 333.96,83.76 334.08,83.76 334.20,83.76 334.32,83.76 334.44,83.76 334.56,83.76 334.68,83.77 385.15,83.77 385.27,83.97 385.39,84.54 385.51,85.41 385.63,86.53 385.75,87.80 385.87,89.14 385.99,90.47 386.11,91.71 386.23,92.77 386.35,93.59 386.47,94.12 386.59,94.31 386.71,94.13 386.83,93.57 386.95,92.62 387.07,91.32 387.19,89.68 387.31,87.76 387.43,85.61 387.55,83.30 387.67,80.90 387.79,78.48 387.91,76.12 388.03,73.90 388.15,71.89 388.27,70.14 388.39,68.73 388.51,67.70 388.63,67.08 388.75,66.89 388.87,67.15 388.99,67.84 389.11,68.96 389.23,70.47 389.35,72.33 389.47,74.49 389.59,76.89 389.71,79.47 389.83,82.15 389.94,84.86 390.06,87.52 390.18,90.08 390.30,92.45 390.42,94.58 390.54,96.41 390.66,97.90 390.78,99.01 390.90,99.72 391.02,100.01 391.14,99.89 391.26,99.36 391.38,98.44 391.50,97.17 391.62,95.58 391.74,93.72 391.86,91.65 391.98,89.41 392.10,87.08 392.22,84.72 392.34,82.38 392.46,80.13 392.58,78.02 392.70,76.10 392.82,74.42 392.94,73.02 393.06,71.93 393.18,71.16 393.30,70.72 393.42,70.63 393.54,70.87 393.66,71.43 393.78,72.28 393.90,73.40 394.02,74.75 394.14,76.29 394.26,77.97 394.38,79.75 394.50,81.58 394.62,83.41 394.74,85.20 394.86,86.89 394.98,88.46 395.10,89.86 395.22,91.06 395.34,92.05 395.46,92.79 395.58,93.29 395.70,93.53 395.82,93.51 395.94,93.26 396.06,92.77 396.18,92.07 396.30,91.19 396.42,90.16 396.54,88.99 396.66,87.74 396.78,86.43 396.90,85.09 397.02,83.78 397.14,82.50 397.26,81.30 397.38,80.21 397.50,79.25 397.62,78.43 397.74,77.77 397.86,77.29 397.98,76.99 398.10,76.87 398.22,76.93 398.34,77.16 398.46,77.55 398.58,78.07 398.70,78.72 398.82,79.48 398.94,80.31 399.06,81.20 399.18,82.12 399.30,83.04 399.42,83.95 399.54,84.83 399.65,85.64 399.77,86.37 399.89,87.01 400.01,87.55 400.13,87.96 400.25,88.26 400.37,88.44 400.49,88.49 400.61,88.42 400.73,88.23 400.85,87.94 400.97,87.56 401.09,87.10 401.21,86.58 401.33,86.00 401.45,85.39 401.57,84.77 401.69,84.14 401.81,83.53 401.93,82.96 402.05,82.42 402.17,81.94 402.29,81.53 402.41,81.19 402.53,80.93 402.65,80.75 402.77,80.65 402.89,80.64 403.01,80.71 403.13,80.84 403.25,81.05 403.37,81.32 403.49,81.64 403.61,81.99 403.73,82.38 403.85,82.79 403.97,83.20 404.09,83.61 404.21,84.01 404.33,84.39 404.45,84.73 404.57,85.04 404.69,85.30 404.81,85.51 404.93,85.67 405.05,85.77 405.17,85.82 405.29,85.82 405.41,85.77 405.53,85.66 405.65,85.52 405.77,85.34 405.89,85.12 406.01,84.89 406.13,84.63 406.25,84.36 406.37,84.09 406.49,83.83 406.61,83.57 406.73,83.33 406.85,83.11 406.97,82.92 407.09,82.76 407.21,82.63 407.33,82.54 407.45,82.48 407.57,82.45 407.69,82.46 407.81,82.50 407.93,82.57 408.05,82.67 408.17,82.80 408.29,82.94 408.41,83.09 408.53,83.26 408.65,83.43 408.77,83.61 408.89,83.77 409.01,83.94 409.12,84.09 409.24,84.22 409.36,84.34 409.48,84.44 409.60,84.52 409.72,84.58 409.84,84.61 409.96,84.62 410.08,84.61 410.20,84.58 410.32,84.53 410.44,84.46 410.56,84.38 410.68,84.29 410.80,84.19 410.92,84.08 411.04,83.97 411.16,83.86 411.28,83.75 411.40,83.65 411.52,83.56 411.64,83.47 411.76,83.40 411.88,83.34 412.00,83.30 412.12,83.26 412.24,83.24 412.36,83.24 412.48,83.25 412.60,83.27 412.72,83.31 412.84,83.35 412.96,83.40 413.08,83.46 413.20,83.53 413.32,83.60 413.44,83.67 413.56,83.73 413.68,83.80 413.80,83.86 413.92,83.92 414.04,83.97 414.16,84.02 414.28,84.05 414.40,84.08 414.52,84.10 414.64,84.11 414.76,84.11 414.88,84.10 415.00,84.09 415.12,84.06 415.24,84.03 415.36,84.00 415.48,83.96 415.60,83.92 415.72,83.88 415.84,83.83 415.96,83.79 416.08,83.75 416.20,83.71 416.32,83.68 416.44,83.65 416.56,83.62 416.68,83.60 416.80,83.58 416.92,83.57 417.04,83.57 417.16,83.57 417.28,83.57 417.40,83.58 417.52,83.60 417.64,83.62 417.76,83.64 417.88,83.66 418.00,83.69 418.12,83.72 418.24,83.74 418.36,83.77 418.48,83.80 418.60,83.82 418.71,83.84 418.83,83.86 418.95,83.87 419.07,83.89 419.19,83.90 419.31,83.90 419.43,83.90 419.55,83.90 419.67,83.90 419.79,83.89 419.91,83.88 420.03,83.87 420.15,83.86 420.27,83.84 420.39,83.82 420.51,83.81 420.63,83.79 420.75,83.77 420.87,83.76 420.99,83.75 421.11,83.73 421.23,83.72 421.35,83.71 421.47,83.70 421.59,83.70 421.71,83.70 421.83,83.70 421.95,83.70 422.07,83.70 422.19,83.70 422.31,83.71 422.43,83.72 422.55,83.73 422.67,83.74 422.79,83.75 422.91,83.76 423.03,83.77 423.15,83.78 423.27,83.79 423.39,83.80 423.51,83.80 423.63,83.81 423.75,83.82 423.87,83.82 423.99,83.82 424.11,83.82 424.23,83.82 424.35,83.82 424.47,83.82 424.59,83.82 424.71,83.81 424.83,83.81 424.95,83.80 425.07,83.80 425.19,83.79 425.31,83.78 425.67,83.77 425.79,83.76 425.91,83.76 426.03,83.75 426.15,83.75 426.27,83.75 426.39,83.75 426.51,83.75 426.63,83.75 426.75,83.75 426.87,83.75 426.99,83.75 427.11,83.75 427.23,83.75 427.35,83.76 427.47,83.76 427.59,83.77 428.19,83.78 428.31,83.79 428.42,83.79 428.54,83.79 428.66,83.79 428.78,83.79 428.90,83.79 429.02,83.79 429.14,83.79 429.26,83.79 429.38,83.79 429.50,83.79 429.62,83.79 429.74,83.78 430.94,83.77 431.06,83.76 431.18,83.76 431.30,83.76 431.42,83.76 431.54,83.76 431.66,83.76 431.78,83.77 529.00,83.78" stroke="#f41e1e" stroke-width="1.2"/>
</g>
<g clip-path="url(#cb)" fill="none" stroke-linejoin="round">
<polyline points="49.50,331.35 50.46,332.22 51.42,330.91 52.38,331.72 53.34,328.12 54.30,330.62 55.25,324.47 56.21,331.00 57.17,332.11 58.13,329.59 59.09,328.77 60.05,330.01 61.01,325.85 61.97,330.81 62.93,330.66 63.88,329.65 64.84,331.36 65.80,331.96 66.76,331.30 67.72,330.21 68.68,329.54 69.64,330.61 70.60,332.15 71.56,330.26 72.52,327.40 73.47,326.84 74.43,328.31 75.39,330.35 76.35,332.02 77.31,331.25 78.27,329.28 79.23,331.60 80.19,331.53 81.15,330.94 82.11,330.87 83.06,327.45 84.02,330.42 84.98,328.85 85.94,332.99 86.90,330.01 87.86,332.13 88.82,333.15 89.78,331.55 90.74,331.04 91.70,329.28 92.66,328.86 93.61,332.40 94.57,326.57 95.53,327.17 96.49,329.82 97.45,180.20 98.41,325.84 99.37,330.40 100.33,329.62 101.29,331.28 102.25,327.79 103.20,330.69 104.16,328.86 105.12,329.96 106.08,329.96 107.04,325.94 108.00,332.97 108.96,330.89 109.92,327.84 110.88,328.18 111.84,327.41 112.79,326.64 113.75,330.97 114.71,330.52 115.67,330.44 116.63,328.75 117.59,330.67 118.55,331.45 119.51,331.04 120.47,327.35 121.42,331.20 122.38,327.48 123.34,324.99 124.30,330.96 125.26,329.48 126.22,331.52 127.18,329.95 128.14,331.74 129.10,332.39 130.06,324.82 131.01,330.12 131.97,327.01 132.93,325.70 133.89,326.67 134.85,323.33 135.81,213.49 136.77,325.14 137.73,330.39 138.69,328.71 139.65,322.98 140.60,331.86 141.56,325.72 142.52,331.81 143.48,327.10 144.44,322.39 145.40,330.21 146.36,320.21 147.32,327.52 148.28,328.30 149.24,324.03 150.19,329.97 151.15,327.35 152.11,331.26 153.07,328.35 154.03,325.96 154.99,331.37 155.95,323.44 156.91,330.49 157.87,328.69 158.83,331.59 159.78,329.23 160.74,325.82 161.70,331.39 162.66,327.99 163.62,325.05 164.58,330.85 165.54,328.31 166.50,330.49 167.46,331.10 168.42,326.18 169.38,329.60 170.33,329.05 171.29,330.29 172.25,329.79 173.21,326.03 174.17,329.00 175.13,325.30 176.09,331.54 177.05,330.61 178.01,330.52 178.97,332.12 179.92,327.78 180.88,331.15 181.84,332.12 182.80,330.17 183.76,330.84 184.72,331.15 185.68,330.10 186.64,328.64 187.60,332.69 188.56,330.96 189.51,331.53 190.47,329.33 191.43,332.05 192.39,331.06 193.35,180.20 194.31,327.07 195.27,331.73 196.23,332.93 197.19,329.33 198.15,332.11 199.10,327.29 200.06,329.22 201.02,329.09 201.98,327.56 202.94,330.31 203.90,329.31 204.86,328.42 205.82,328.90 206.78,332.90 207.73,332.76 208.69,330.16 209.65,328.81 210.61,332.15 211.57,330.37 212.53,328.15 213.49,329.61 214.45,329.94 215.41,328.93 216.37,331.15 217.32,328.07 218.28,330.18 219.24,331.47 220.20,332.40 221.16,328.18 222.12,327.09 223.08,331.83 224.04,331.01 225.00,332.36 225.96,330.33 226.92,328.35 227.87,328.17 228.83,330.98 229.79,329.87 230.75,331.71 231.71,330.53 232.67,332.69 233.63,331.01 234.59,331.81 235.55,330.43 236.50,327.71 237.46,328.34 238.42,330.99 239.38,330.04 240.34,330.54 241.30,332.44 242.26,332.33 243.22,327.15 244.18,330.74 245.14,329.21 246.09,328.17 247.05,332.52 248.01,332.91 248.97,331.59 249.93,327.20 250.89,330.41 251.85,332.29 252.81,332.40 253.77,329.55 254.73,329.97 255.69,328.77 256.64,328.93 257.60,330.03 258.56,329.56 259.52,327.34 260.48,329.09 261.44,330.20 262.40,330.34 263.36,331.10 264.32,331.53 265.27,327.92 266.23,330.76 267.19,332.28 268.15,332.31 269.11,329.10 270.07,331.15 271.03,329.01 271.99,330.56 272.95,332.75 273.91,327.26 274.87,331.92 275.82,330.05 276.78,329.95 277.74,330.30 278.70,331.08 279.66,326.20 280.62,332.35 281.58,331.40 282.54,330.98 283.50,327.94 284.46,330.44 285.41,328.97 286.37,329.95 287.33,328.28 288.29,328.95 289.25,332.62 290.21,332.02 291.17,332.65 292.13,330.64 293.09,327.21 294.04,329.36 295.00,328.06 295.96,328.34 296.92,331.07 297.88,331.04 298.84,327.97 299.80,331.53 300.76,331.70 301.72,328.91 302.68,328.38 303.63,329.03 304.59,329.13 305.55,331.77 306.51,328.68 307.47,331.53 308.43,327.24 309.39,331.66 310.35,330.30 311.31,327.35 312.27,331.19 313.23,328.67 314.18,327.86 315.14,331.66 316.10,330.41 317.06,329.63 318.02,330.08 318.98,328.54 319.94,328.66 320.90,331.69 321.86,328.67 322.81,332.02 323.77,326.04 324.73,328.71 325.69,326.07 326.65,328.72 327.61,330.75 328.57,332.18 329.53,330.90 330.49,332.31 331.45,329.00 332.41,329.91 333.36,329.54 334.32,330.76 335.28,327.07 336.24,331.40 337.20,332.88 338.16,329.95 339.12,330.04 340.08,329.03 341.04,329.87 342.00,331.78 342.95,331.60 343.91,330.93 344.87,330.63 345.83,326.68 346.79,332.27 347.75,330.34 348.71,331.72 349.67,329.28 350.63,329.81 351.58,328.24 352.54,332.10 353.50,330.75 354.46,332.58 355.42,330.40 356.38,330.13 357.34,331.55 358.30,331.01 359.26,330.84 360.22,330.90 361.18,326.79 362.13,330.98 363.09,330.13 364.05,330.89 365.01,329.81 365.97,330.97 366.93,330.24 367.89,330.67 368.85,331.33 369.81,332.21 370.76,330.81 371.72,331.31 372.68,329.15 373.64,328.46 374.60,330.25 375.56,331.21 376.52,326.69 377.48,329.87 378.44,327.71 379.40,327.05 380.36,330.45 381.31,327.24 382.27,330.80 383.23,328.87 384.19,332.02 385.15,331.09 386.11,331.91 387.07,330.82 388.03,328.87 388.99,330.56 389.94,332.07 390.90,332.14 391.86,331.46 392.82,331.36 393.78,329.92 394.74,330.59 395.70,330.40 396.66,330.19 397.62,329.72 398.58,330.95 399.53,332.25 400.49,331.61 401.45,332.19 402.41,328.94 403.37,328.98 404.33,331.91 405.29,332.45 406.25,332.99 407.21,332.11 408.17,332.17 409.12,332.17 410.08,331.69 411.04,328.27 412.00,327.87 412.96,326.12 413.92,330.97 414.88,330.49 415.84,331.02 416.80,328.87 417.76,330.94 418.72,329.13 419.67,329.40 420.63,330.18 421.59,331.41 422.55,328.82 423.51,330.76 424.47,329.62 425.43,329.00 426.39,328.73 427.35,330.91 428.31,330.82 429.26,329.09 430.22,331.00 431.18,331.81 432.14,328.17 433.10,330.14 434.06,330.64 435.02,329.05 435.98,330.29 436.94,331.90 437.89,331.79 438.85,331.06 439.81,330.81 440.77,332.76 441.73,331.82 442.69,327.46 443.65,328.52 444.61,329.38 445.57,331.95 446.53,328.55 447.49,331.29 448.44,331.63 449.40,329.79 450.36,331.82 451.32,331.48 452.28,331.93 453.24,329.74 454.20,330.79 455.16,328.09 456.12,332.05 457.07,330.99 458.03,329.78 458.99,332.39 459.95,332.37 460.91,329.72 461.87,328.25 462.83,329.42 463.79,332.00 464.75,330.84 465.71,331.59 466.66,328.83 467.62,332.09 468.58,329.99 469.54,328.93 470.50,331.37 471.46,328.77 472.42,331.16 473.38,329.54 474.34,330.10 475.30,332.83 476.25,328.65 477.21,332.33 478.17,332.17 479.13,330.31 480.09,330.78 481.05,331.17 482.01,333.05 482.97,330.45 483.93,329.94 484.89,331.35 485.84,332.73 486.80,331.40 487.76,329.70 488.72,330.46 489.68,329.38 490.64,331.01 491.60,331.24 492.56,330.15 493.52,331.36 494.48,331.19 495.44,330.56 496.39,332.02 497.35,330.79 498.31,330.53 499.27,331.54 500.23,330.52 501.19,331.06 502.15,330.83 503.11,330.51 504.07,331.15 505.02,330.56 505.98,330.76 506.94,332.14 507.90,331.93 508.86,332.74 509.82,330.00 510.78,332.49 511.74,327.72 512.70,330.80 513.66,326.88 514.62,331.25 515.57,332.05 516.53,328.38 517.49,330.57 518.45,329.30 519.41,330.59 520.37,331.54 521.33,330.88 522.29,329.26 523.25,330.33 524.21,330.12 525.16,331.28 526.12,329.74 527.08,331.10 528.04,331.47 529.00,332.82" stroke="#0a7fd2" stroke-width="1.1"/>
<polyline points="49.50,331.54 50.46,331.62 51.42,332.65 52.38,332.67 53.34,331.60 54.30,331.54 55.25,331.63 56.21,332.64 57.17,332.68 58.13,331.57 59.09,331.53 60.05,331.64 61.01,332.62 61.97,332.68 62.93,331.53 63.88,331.51 64.84,331.63 65.80,332.60 66.76,332.69 67.72,331.47 68.68,331.49 69.64,331.61 70.60,332.57 71.56,332.70 72.52,331.41 73.47,331.45 74.43,331.59 75.39,332.55 76.35,332.70 77.31,331.32 78.27,331.41 79.23,331.55 80.19,332.51 81.15,332.71 82.11,331.22 83.06,331.36 84.02,331.49 84.98,332.47 85.94,332.71 86.90,331.10 87.86,331.29 88.82,331.42 89.78,332.42 90.74,332.72 91.70,330.94 92.66,331.21 93.61,331.33 94.57,332.37 95.53,332.73 96.49,330.75 97.45,331.12 98.41,331.20 99.37,332.30 100.33,332.74 101.29,330.50 102.25,331.01 103.20,331.04 104.16,332.22 105.12,332.76 106.08,330.19 107.04,330.88 108.00,330.82 108.96,332.12 109.92,332.79 110.88,329.79 111.84,330.73 112.79,330.53 113.75,332.00 114.71,332.85 115.67,329.27 116.63,330.56 117.59,330.12 118.55,331.86 119.51,332.94 120.47,328.57 121.42,330.37 122.38,329.54 123.34,331.69 124.30,333.02 125.26,327.62 126.22,330.17 127.18,328.74 128.14,331.53 129.10,332.83 130.06,326.36 131.01,329.99 131.97,327.64 132.93,331.40 133.89,332.30 134.85,324.76 135.81,329.90 136.77,326.26 137.73,331.37 138.69,331.43 139.65,323.04 140.60,329.95 141.56,324.84 142.52,331.45 143.48,330.33 144.44,321.89 145.40,330.05 146.36,323.92 147.32,331.49 148.28,329.48 149.24,322.20 150.19,330.01 151.15,323.95 152.11,331.53 153.07,329.34 154.03,323.99 154.99,329.91 155.95,324.88 156.91,331.78 157.87,329.82 158.83,326.24 159.78,329.98 160.74,326.25 161.70,332.15 162.66,330.48 163.62,328.14 164.58,330.21 165.54,327.57 166.50,332.48 167.46,331.05 168.42,329.49 169.38,330.52 170.33,328.67 171.29,332.72 172.25,331.49 173.21,330.40 174.17,330.81 175.13,329.51 176.09,332.86 177.05,331.82 178.01,331.01 178.97,331.08 179.92,330.15 180.88,332.94 181.84,332.06 182.80,331.43 183.76,331.31 184.72,330.64 185.68,332.98 186.64,332.24 187.60,331.72 188.56,331.51 189.51,331.02 190.47,333.00 191.43,332.37 192.39,331.94 193.35,331.68 194.31,331.31 195.27,333.01 196.23,332.48 197.19,332.10 198.15,331.82 199.10,331.55 200.06,333.01 201.02,332.57 201.98,332.22 202.94,331.94 203.90,331.74 204.86,333.02 205.82,332.64 206.78,332.32 207.73,332.05 208.69,331.89 209.65,333.02 210.61,332.70 211.57,332.40 212.53,332.14 213.49,332.02 214.45,333.03 215.41,332.75 216.37,332.47 217.32,332.22 218.28,332.13 219.24,333.03 220.20,332.79 221.16,332.53 222.12,332.29 223.08,332.22 224.04,333.04 225.00,332.82 225.96,332.57 226.92,332.35 227.87,332.30 228.83,333.04 229.79,332.85 230.75,332.62 231.71,332.40 232.67,332.37 233.63,333.05 234.59,332.88 235.55,332.65 236.50,332.45 237.46,332.43 238.42,333.05 239.38,332.90 240.34,332.68 241.30,332.50 242.26,332.49 243.22,333.06 244.18,332.92 245.14,332.71 246.09,332.53 247.05,332.53 248.01,333.06 248.97,332.94 249.93,332.74 250.89,332.57 251.85,332.57 252.81,333.07 253.77,332.96 254.73,332.76 255.69,332.60 256.64,332.61 257.60,333.07 258.56,332.97 259.52,332.78 260.48,332.63 261.44,332.65 262.40,333.07 263.36,332.98 264.32,332.80 265.27,332.66 266.23,332.68 267.19,333.08 268.15,333.00 269.11,332.82 270.07,332.68 271.03,332.70 271.99,333.08 272.95,333.01 273.91,332.83 274.87,332.70 275.82,332.73 276.78,333.09 277.74,333.02 278.70,332.85 279.66,332.73 280.62,332.75 281.58,333.09 282.54,333.02 283.50,332.86 284.46,332.74 285.41,332.77 286.37,333.09 287.33,333.03 288.29,332.87 289.25,332.76 290.21,332.79 291.17,333.09 292.13,333.04 293.09,332.88 294.04,332.78 295.00,332.81 295.96,333.10 296.92,333.05 297.88,332.89 298.84,332.79 299.80,332.82 300.76,333.10 301.72,333.05 302.68,332.90 303.63,332.81 304.59,332.84 305.55,333.10 306.51,333.06 307.47,332.91 308.43,332.82 309.39,332.85 310.35,333.10 311.31,333.06 312.27,332.92 313.23,332.83 314.18,332.86 315.14,333.11 316.10,333.07 317.06,332.93 318.02,332.84 318.98,332.88 319.94,333.11 320.90,333.07 321.86,332.94 322.81,332.85 323.77,332.89 324.73,333.11 325.69,333.08 326.65,332.94 327.61,332.86 328.57,332.90 329.53,333.11 330.49,333.08 331.45,332.95 332.41,332.87 333.36,332.91 334.32,333.11 335.28,333.09 336.24,332.96 337.20,332.88 338.16,332.91 339.12,333.12 340.08,333.09 341.04,332.96 342.00,332.89 342.95,332.92 343.91,333.12 344.87,333.09 345.83,332.97 346.79,332.90 347.75,332.93 348.71,333.12 349.67,333.10 350.63,332.97 351.58,332.91 352.54,332.94 353.50,333.12 354.46,333.10 355.42,332.98 356.38,332.91 357.34,332.94 358.30,333.12 359.26,333.10 360.22,332.98 361.18,332.92 362.13,332.95 363.09,333.12 364.05,333.10 365.01,332.99 365.97,332.93 366.93,332.96 367.89,333.13 368.85,333.11 369.81,332.99 370.76,332.93 371.72,332.96 372.68,333.13 373.64,333.11 374.60,332.99 375.56,332.94 376.52,332.97 377.48,333.13 378.44,333.11 379.40,333.00 380.36,332.94 381.31,332.97 382.27,333.13 383.23,333.11 384.19,333.00 385.15,332.95 386.11,332.98 387.07,333.13 388.03,333.11 388.99,333.00 389.94,332.95 390.90,332.98 391.86,333.13 392.82,333.12 393.78,333.01 394.74,332.95 395.70,332.99 396.66,333.13 397.62,333.12 398.58,333.01 399.53,332.96 400.49,332.99 401.45,333.13 402.41,333.12 403.37,333.01 404.33,332.96 405.29,332.99 406.25,333.13 407.21,333.12 408.17,333.02 409.12,332.97 410.08,333.00 411.04,333.13 412.00,333.12 412.96,333.02 413.92,332.97 414.88,333.00 415.84,333.13 416.80,333.12 417.76,333.02 418.72,332.97 419.67,333.00 420.63,333.13 421.59,333.12 422.55,333.02 423.51,332.98 424.47,333.01 425.43,333.14 426.39,333.13 427.35,333.02 428.31,332.98 429.26,333.01 430.22,333.14 431.18,333.13 432.14,333.03 433.10,332.98 434.06,333.01 435.02,333.14 435.98,333.13 436.94,333.03 437.89,332.98 438.85,333.02 439.81,333.14 440.77,333.13 441.73,333.03 442.69,332.99 443.65,333.02 444.61,333.14 445.57,333.13 446.53,333.03 447.49,332.99 448.44,333.02 449.40,333.14 450.36,333.13 451.32,333.03 452.28,332.99 453.24,333.02 454.20,333.14 455.16,333.13 456.12,333.03 457.07,332.99 458.03,333.02 458.99,333.14 459.95,333.13 460.91,333.03 461.87,332.99 462.83,333.03 463.79,333.14 464.75,333.13 465.71,333.03 466.66,332.99 467.62,333.03 468.58,333.14 469.54,333.13 470.50,333.04 471.46,333.00 472.42,333.03 473.38,333.14 474.34,333.13 475.30,333.04 476.25,333.00 477.21,333.03 478.17,333.14 479.13,333.14 480.09,333.04 481.05,333.00 482.01,333.03 482.97,333.14 483.93,333.14 484.89,333.04 485.84,333.00 486.80,333.03 487.76,333.14 488.72,333.14 489.68,333.04 490.64,333.00 491.60,333.03 492.56,333.14 493.52,333.14 494.48,333.04 495.44,333.00 496.39,333.03 497.35,333.14 498.31,333.14 499.27,333.04 500.23,333.00 501.19,333.04 502.15,333.14 503.11,333.14 504.07,333.04 505.02,333.00 505.98,333.04 506.94,333.14 507.90,333.14 508.86,333.04 509.82,333.00 510.78,333.04 511.74,333.14 512.70,333.14 513.66,333.04 514.62,333.00 515.57,333.04 516.53,333.14 517.49,333.14 518.45,333.04 519.41,333.00 520.37,333.04 521.33,333.14 522.29,333.14 523.25,333.04 524.21,333.00 525.16,333.04 526.12,333.14 527.08,333.14 528.04,333.04 529.00,333.00" stroke="#f41e1e" stroke-width="1.2"/>
</g>
<g class="tk">
<text x="49.50" y="161.2" text-anchor="middle">0</text>
<text x="97.45" y="161.2" text-anchor="middle">100</text>
<text x="145.40" y="161.2" text-anchor="middle">200</text>
<text x="193.35" y="161.2" text-anchor="middle">300</text>
<text x="241.30" y="161.2" text-anchor="middle">400</text>
<text x="289.25" y="161.2" text-anchor="middle">500</text>
<text x="337.20" y="161.2" text-anchor="middle">600</text>
<text x="385.15" y="161.2" text-anchor="middle">700</text>
<text x="433.10" y="161.2" text-anchor="middle">800</text>
<text x="481.05" y="161.2" text-anchor="middle">900</text>
<text x="529.00" y="161.2" text-anchor="middle">1000</text>
<text x="45.2" y="25.9" text-anchor="end">1</text>
<text x="45.2" y="87.5" text-anchor="end">0</text>
<text x="28.4" y="149.1" textLength="9" lengthAdjust="spacingAndGlyphs">−</text>
<text x="45.2" y="149.1" text-anchor="end">1</text>
<text x="49.50" y="349.2" text-anchor="middle">0</text>
<text x="97.45" y="349.2" text-anchor="middle">0.5</text>
<text x="145.40" y="349.2" text-anchor="middle">1</text>
<text x="193.35" y="349.2" text-anchor="middle">1.5</text>
<text x="241.30" y="349.2" text-anchor="middle">2</text>
<text x="289.25" y="349.2" text-anchor="middle">2.5</text>
<text x="337.20" y="349.2" text-anchor="middle">3</text>
<text x="385.15" y="349.2" text-anchor="middle">3.5</text>
<text x="433.10" y="349.2" text-anchor="middle">4</text>
<text x="481.05" y="349.2" text-anchor="middle">4.5</text>
<text x="529.00" y="349.2" text-anchor="middle">5</text>
<text x="45.2" y="216.15" text-anchor="end">0.2</text>
<text x="45.2" y="276.4" text-anchor="end">0.1</text>
<text x="45.2" y="337.0" text-anchor="end">0</text>
</g>
<text class="al" x="289.3" y="181.7" text-anchor="middle">Samples</text>
<text class="al" x="289.3" y="370.4" text-anchor="middle">Frequency(Hz)</text>
<text class="al" transform="translate(22.2,83.5) rotate(-90)" text-anchor="middle" textLength="107.5" lengthAdjust="spacing">Amplitude(mV)</text>
<text class="al" transform="translate(22.2,271.6) rotate(-90)" text-anchor="middle" textLength="107.5" lengthAdjust="spacing">Amplitude(mV)</text>
<text class="tt" x="289.4" y="18.2" text-anchor="middle">(a)</text>
<text class="tt" x="289.3" y="205.7" text-anchor="middle">(b)</text>
<text class="tk" x="499.0" y="367.6" style="font-size:16.5px">×</text>
<text class="tk" x="509.2" y="366.9" style="font-size:14.5px" textLength="13.2" lengthAdjust="spacing">10</text>
<text class="tk" x="524.2" y="361.9" style="font-size:11.6px;letter-spacing:0" textLength="4" lengthAdjust="spacingAndGlyphs">8</text>
<rect x="375.5" y="31" width="139.5" height="40.5" fill="#fff" stroke="#3a3a3a" stroke-width="1"/>
<line x1="380.5" y1="42" x2="431" y2="42" stroke="#0072BD" stroke-width="1.2"/>
<line x1="380.5" y1="60.8" x2="431" y2="60.8" stroke="#FF0000" stroke-width="1.2"/>
<text x="435.6" y="47.9" class="lg" textLength="74.3" lengthAdjust="spacingAndGlyphs">Noisy Signal</text>
<text x="435.6" y="66" class="lg" textLength="69.1" lengthAdjust="spacingAndGlyphs">Pure Signal</text>
<rect x="375.5" y="219" width="139.5" height="40.5" fill="#fff" stroke="#3a3a3a" stroke-width="1"/>
<line x1="380.5" y1="230" x2="431" y2="230" stroke="#0072BD" stroke-width="1.2"/>
<line x1="380.5" y1="248.8" x2="431" y2="248.8" stroke="#FF0000" stroke-width="1.2"/>
<text x="435.6" y="235.9" class="lg" textLength="74.3" lengthAdjust="spacingAndGlyphs">Noisy Signal</text>
<text x="435.6" y="254" class="lg" textLength="69.1" lengthAdjust="spacingAndGlyphs">Pure Signal</text>
</svg>
</body></html>
